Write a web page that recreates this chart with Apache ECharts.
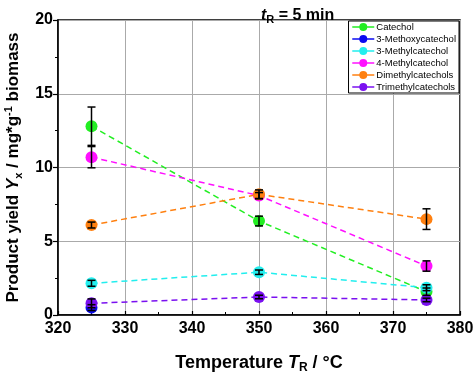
<!DOCTYPE html>
<html>
<head>
<meta charset="utf-8">
<script src="https://cdn.jsdelivr.net/npm/echarts@6/dist/echarts.min.js"></script>
<style>
  html, body { margin: 0; padding: 0; background: #fff; }
  #chart { width: 474px; height: 376px; }
</style>
</head>
<body>
<div id="chart"></div>
<script>
// reaction temperatures (°C)
var temps = [325, 350, 375];
var names = ['Catechol', '3-Methoxycatechol', '3-Methylcatechol', '4-Methylcatechol', 'Dimethylcatechols', 'Trimethylcatechols'];
var colors = ['#22ee22', '#0a0af0', '#22eeee', '#ff10ff', '#ff8010', '#7a10f0'];

// product yield (mg/g biomass), null = not detected
var catechol = [12.8, 6.37, 1.58];
var methoxycatechol = [0.5, null, null];
var methylcatechol3 = [2.15, 2.9, 1.85];
var methylcatechol4 = [10.7, 8.1, 3.32];
var dimethylcatechols = [6.1, 8.18, 6.5];
var trimethylcatechols = [0.79, 1.22, 1.02];

// +/- error
var catecholErr = [1.3, 0.33, 0.25];
var methoxycatecholErr = [0.2, null, null];
var methylcatechol3Err = [0.2, 0.15, 0.2];
var methylcatechol4Err = [0.72, 0.2, 0.35];
var dimethylcatecholsErr = [0.2, 0.3, 0.7];
var trimethylcatecholsErr = [0.3, 0.12, 0.12];

var values = [catechol, methoxycatechol, methylcatechol3, methylcatechol4, dimethylcatechols, trimethylcatechols];
var errors = [catecholErr, methoxycatecholErr, methylcatechol3Err, methylcatechol4Err, dimethylcatecholsErr, trimethylcatecholsErr];

var myChart = echarts.init(document.getElementById('chart'));

var series = [];
names.forEach(function (n, k) {
    series.push({
        name: n,
        type: 'line',
        data: temps.map(function (t, i) { return [t, values[k][i]]; }),
        connectNulls: false,
        symbol: 'circle',
        symbolSize: 12,
        itemStyle: { color: colors[k] },
        lineStyle: { color: colors[k], type: [6, 4], width: 1.5 },
        z: 3
    });
});

// error bars
var errData = [];
values.forEach(function (v, k) {
    v.forEach(function (y, i) {
        if (y !== null) errData.push([temps[i], y - errors[k][i], y + errors[k][i]]);
    });
});
series.push({
    type: 'custom',
    name: 'err',
    z: 5,
    data: errData,
    renderItem: function (params, api) {
        var lo = api.coord([api.value(0), api.value(1)]);
        var hi = api.coord([api.value(0), api.value(2)]);
        var w = 4;
        var st = { stroke: '#000', lineWidth: 1.5 };
        return {
            type: 'group',
            children: [
                { type: 'line', shape: { x1: lo[0], y1: lo[1], x2: hi[0], y2: hi[1] }, style: st },
                { type: 'line', shape: { x1: lo[0] - w, y1: lo[1], x2: lo[0] + w, y2: lo[1] }, style: st },
                { type: 'line', shape: { x1: hi[0] - w, y1: hi[1], x2: hi[0] + w, y2: hi[1] }, style: st }
            ]
        };
    },
    encode: { x: 0, y: [1, 2] }
});

var option = {
    animation: false,
    title: {
        text: '{i|t}{sub|R}{n| = 5 min}',
        left: 256,
        top: 1,
        textStyle: {
            rich: {
                i: { fontFamily: 'Liberation Sans', fontWeight: 'bold', fontStyle: 'italic', fontSize: 16, color: '#000' },
                sub: { fontFamily: 'Liberation Sans', fontWeight: 'bold', fontSize: 11, color: '#000', verticalAlign: 'bottom', padding: [8, 0, 0, 0] },
                n: { fontFamily: 'Liberation Sans', fontWeight: 'bold', fontSize: 16, color: '#000' }
            }
        }
    },
    legend: {
        data: names,
        orient: 'vertical',
        right: 15,
        top: 21,
        itemWidth: 22,
        itemHeight: 10,
        itemGap: 2,
        padding: [1, 3, 1, 3],
        backgroundColor: '#fff',
        borderColor: '#000',
        borderWidth: 1,
        lineStyle: { type: 'solid', width: 1.5 },
        textStyle: { fontFamily: 'Liberation Sans', fontSize: 9.5, color: '#000', padding: [0, 0, 0, -3] }
    },
    grid: {
        left: 58, right: 14, top: 20, bottom: 61,
        containLabel: false,
        outerBoundsMode: 'none',
        show: true, borderColor: '#000', borderWidth: 1.5
    },
    xAxis: {
        type: 'value',
        min: 320, max: 380, interval: 10,
        name: '{n|Temperature }{i|T}{sub|R}{n| / °C}',
        nameLocation: 'middle',
        nameGap: 37,
        nameTextStyle: {
            rich: {
                n: { fontFamily: 'Liberation Sans', fontWeight: 'bold', fontSize: 18, color: '#000' },
                i: { fontFamily: 'Liberation Sans', fontWeight: 'bold', fontStyle: 'italic', fontSize: 18, color: '#000' },
                sub: { fontFamily: 'Liberation Sans', fontWeight: 'bold', fontSize: 12, color: '#000', verticalAlign: 'bottom', padding: [10, 0, 0, 0] }
            }
        },
        axisLine: { lineStyle: { color: '#000', width: 1.5 } },
        axisTick: { inside: true, length: 4, lineStyle: { color: '#000', width: 1.2 } },
        minorTick: { show: true, splitNumber: 2, length: 3, lineStyle: { color: '#000' } },
        axisLabel: { fontFamily: 'Liberation Sans', fontWeight: 'bold', fontSize: 16, color: '#000', margin: 6 },
        splitLine: { show: true, lineStyle: { color: '#aaa', width: 1 } }
    },
    yAxis: {
        type: 'value',
        min: 0, max: 20, interval: 5,
        name: '{n|Product yield }{i|Y}{sub|x}{n| / mg*g}{sup|-1}{n| biomass}',
        nameLocation: 'middle',
        nameGap: 33,
        nameTextStyle: {
            rich: {
                n: { fontFamily: 'Liberation Sans', fontWeight: 'bold', fontSize: 17, color: '#000' },
                i: { fontFamily: 'Liberation Sans', fontWeight: 'bold', fontStyle: 'italic', fontSize: 17, color: '#000' },
                sub: { fontFamily: 'Liberation Sans', fontWeight: 'bold', fontSize: 11, color: '#000', verticalAlign: 'bottom', padding: [10, 0, 0, 0] },
                sup: { fontFamily: 'Liberation Sans', fontWeight: 'bold', fontSize: 11, color: '#000', verticalAlign: 'top', padding: [0, 0, 10, 0] }
            }
        },
        axisLine: { show: true, lineStyle: { color: '#000', width: 1.5 } },
        axisTick: { show: true, inside: false, length: 5, lineStyle: { color: '#000', width: 1.2 } },
        minorTick: { show: true, splitNumber: 2, length: 3, lineStyle: { color: '#000' } },
        axisLabel: { fontFamily: 'Liberation Sans', fontWeight: 'bold', fontSize: 16, color: '#000', margin: 5 },
        splitLine: { show: true, lineStyle: { color: '#aaa', width: 1 } }
    },
    series: series
};

myChart.setOption(option);
</script>
</body>
</html>
